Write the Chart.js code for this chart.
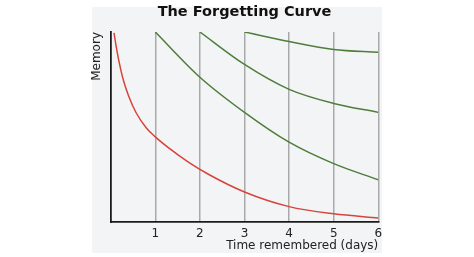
<!DOCTYPE html>
<html>
<head>
<meta charset="utf-8">
<script src="https://cdn.jsdelivr.net/npm/chart.js@4/dist/chart.umd.min.js"></script>
<style>
  html, body { margin: 0; padding: 0; background: #ffffff; }
  #c { display: block; }
</style>
</head>
<body>
<canvas id="c" width="474" height="257"></canvas>
<script>
// ---- data ----
const xTicks = [1, 2, 3, 4, 5, 6];

const redDays   = [0.074, 0.12, 0.19, 0.28, 0.4, 0.57, 0.8, 1, 1.3, 1.75, 2.2, 3, 4, 5, 6];
const redMemory = [99.5, 92.8, 84, 75, 66.5, 57.5, 49.5, 44.8, 39, 31.4, 25, 15.8, 8.1, 4.3, 2.1];

const review1Days   = [1, 2, 3, 4, 5, 6];
const review1Memory = [100, 76.2, 57.7, 42, 30.7, 22.2];

const review2Days   = [2, 3, 4, 5, 6];
const review2Memory = [100, 82.9, 69.8, 62.4, 57.7];

const review3Days   = [3, 4, 5, 6];
const review3Memory = [100, 95, 90.8, 89.3];

const titleText = 'The Forgetting Curve';
const xTitle = 'Time remembered (days)';
const yTitle = 'Memory';

function pts(xs, ys) { return xs.map((x, i) => ({ x: x, y: ys[i] })); }

const FONT = "'DejaVu Sans', sans-serif";
const RED = '#d8433b';
const GREEN = '#4f7d3c';

const panelPlugin = {
  id: 'panel',
  beforeDraw(chart) {
    const ctx = chart.ctx;
    ctx.save();
    ctx.fillStyle = '#f3f4f6';
    ctx.fillRect(92, 7, 290, 246);
    ctx.restore();
  }
};

function ds(data, color) {
  return {
    data: data,
    borderColor: color,
    borderWidth: 1.5,
    pointRadius: 0,
    fill: false,
    cubicInterpolationMode: 'monotone'
  };
}

new Chart(document.getElementById('c'), {
  type: 'line',
  data: {
    datasets: [
      ds(pts(redDays, redMemory), RED),
      ds(pts(review1Days, review1Memory), GREEN),
      ds(pts(review2Days, review2Memory), GREEN),
      ds(pts(review3Days, review3Memory), GREEN)
    ]
  },
  options: {
    responsive: false,
    animation: false,
    events: [],
    layout: { padding: { left: 89.3, right: 95.7, top: 4, bottom: 4 } },
    plugins: {
      legend: { display: false },
      tooltip: { enabled: false },
      title: {
        display: true,
        text: titleText,
        fullSize: false,
        color: '#111111',
        font: { family: FONT, size: 14.5, weight: 'bold' },
        padding: { top: 0, bottom: 10.6 }
      }
    },
    scales: {
      x: {
        type: 'linear',
        min: 0,
        max: 6,
        afterBuildTicks(scale) {
          scale.ticks = [0].concat(xTicks).map(v => ({ value: v }));
        },
        afterFit(scale) { scale.height = 31; },
        ticks: {
          padding: 4.6,
          color: '#222222',
          font: { family: FONT, size: 12 },
          callback: v => (v === 0 ? '' : String(v))
        },
        grid: {
          drawTicks: false,
          lineWidth: 1.5,
          color: ctx => (ctx.tick && ctx.tick.value === 0 ? 'rgba(0,0,0,0)' : '#a9a9a9')
        },
        border: { display: true, color: '#1c1c1c', width: 1.8 },
        title: {
          display: true,
          text: xTitle,
          align: 'end',
          color: '#222222',
          font: { family: FONT, size: 12 },
          padding: { top: 0, bottom: 0 }
        }
      },
      y: {
        type: 'linear',
        min: 0,
        max: 100,
        ticks: { display: false },
        grid: { display: false, drawTicks: false },
        border: { display: true, color: '#1c1c1c', width: 1.8 },
        title: {
          display: true,
          text: yTitle,
          align: 'end',
          color: '#222222',
          font: { family: FONT, size: 12 },
          padding: { top: 0, bottom: 7 }
        }
      }
    }
  },
  plugins: [panelPlugin]
});
</script>
</body>
</html>
